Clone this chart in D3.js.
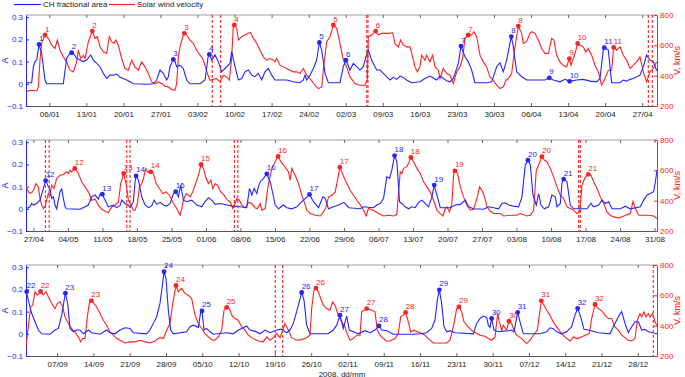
<!DOCTYPE html>
<html><head><meta charset="utf-8">
<script src="https://cdn.jsdelivr.net/npm/d3@7"></script>
<style>body{margin:0;background:#fff}text{font-family:"Liberation Sans",Arial,Helvetica,sans-serif}</style>
</head><body><svg id="c" width="685" height="377"></svg>
<script>
// ---------- DATA (day of year 2008, value) ----------
const ch1=[[1.6,0.005],[2.67,0.005],[2.99,0.077],[3.3,0.1],[3.62,0.107],[4.06,0.178],[4.56,0.137],[5.19,0.017],[5.5,0],[8.65,0],[9.28,0.115],[9.91,0.137],[10.23,0.14],[10.54,0.137],[11.17,0.115],[11.8,0.107],[12.43,0.1],[13.06,0.107],[13.82,0.13],[14.32,0.107],[14.95,0.092],[15.58,0.077],[16.21,0.047],[16.84,0.024],[17.47,0.039],[18.1,0.039],[18.73,0.044],[19.36,0.029],[19.99,0.024],[20.62,0.017],[21.25,0.009],[21.88,0],[24.4,-0.002],[25.66,0],[26.29,0.017],[26.92,0.062],[27.54,0.047],[28.17,0.017],[28.49,0.032],[28.8,0.077],[29.43,0.11],[29.75,0.1],[30.06,0.077],[30.69,0.084],[31.32,0.069],[31.95,0.017],[32.58,0],[34.47,0],[35.42,0.017],[36.05,0.13],[36.24,0.133],[36.68,0.107],[37.31,0.13],[37.93,0.1],[38.56,0.054],[39.19,0.069],[40.14,0.092],[40.46,0.145],[41.09,0.077],[41.71,0.017],[42.34,0.024],[42.97,0.054],[43.6,0.062],[44.23,0.039],[44.86,0.032],[45.49,0.047],[46.12,0.017],[46.75,0.054],[47.38,0.069],[48.01,0.039],[48.64,0.017],[50.84,0.017],[52.1,0.009],[53.36,0.005],[53.99,0.017],[54.31,0.039],[54.62,0.017],[55.25,0.039],[55.88,0.069],[56.51,0.107],[57.02,0.186],[57.46,0.152],[58.09,0.047],[58.72,0.005],[60.91,0.005],[61.54,0.077],[62.04,0.107],[62.8,0.062],[63.43,0.092],[64.06,0.077],[64.69,0.062],[65.32,0.077],[65.82,0.122],[66.26,0.152],[66.89,0.107],[67.84,0.062],[68.47,0.062],[69.1,0.047],[70.36,0.017],[70.99,0.029],[71.62,0.02],[72.24,0.035],[72.87,0.029],[73.5,0.017],[74.45,0.005],[76.02,0.009],[76.97,0.024],[77.91,0.035],[79.17,0.017],[79.8,0.035],[81.06,0.014],[81.69,0.009],[82.32,0.024],[83.27,0.092],[83.77,0.17],[84.52,0.122],[85.15,0.1],[85.78,0.062],[86.41,0.005],[88.62,0.005],[89.56,0.009],[90.51,0.077],[91.14,0.095],[91.77,0.054],[92.4,0.107],[93.28,0.213],[93.66,0.167],[94.29,0.054],[95.23,0.032],[96.17,0.017],[99.64,0.017],[100.46,0.027],[101.21,0.017],[102.47,0.009],[103.42,0.02],[104.3,0.011],[105.62,0.017],[106.88,0.02],[108.14,0.012],[109.4,0.009],[110.03,0.024],[110.66,0.155],[110.85,0.163],[111.6,0.152],[112.23,0.005],[113.81,0.005],[114.44,0.017],[115.07,0.012],[115.7,0.02],[116.33,0.024],[117.58,0.039],[118.21,0.077],[118.84,0.13],[119.47,0.107],[120.1,0.1],[120.73,0.059]];
const sw1=[[1.6,293],[2.36,304],[3.62,299],[3.93,326],[4.24,502],[4.56,613],[5.19,668],[5.82,646],[6.45,601],[7.08,579],[7.52,635],[8.02,568],[8.65,524],[9.28,491],[9.91,436],[10.54,425],[11.17,491],[11.49,568],[11.93,513],[12.43,535],[12.75,513],[13.38,624],[14.13,694],[14.64,646],[15.08,657],[15.58,590],[16.21,557],[16.84,546],[17.34,657],[17.78,624],[18.22,613],[18.6,635],[19.04,601],[19.67,513],[20.3,447],[20.93,436],[21.56,502],[22.19,458],[22.82,436],[23.45,491],[24.08,458],[24.71,414],[25.34,359],[25.97,348],[26.6,359],[27.23,348],[27.86,330],[28.49,326],[29.12,308],[29.75,304],[30.06,348],[30.38,524],[30.69,590],[31.2,657],[31.51,679],[31.95,668],[32.58,635],[33.21,613],[33.84,568],[34.47,535],[34.98,513],[35.42,469],[35.86,414],[36.36,370],[36.99,376],[37.62,381],[38.25,359],[38.88,403],[39.51,392],[40.01,370],[40.45,513],[40.77,734],[40.96,734],[41.4,712],[41.71,635],[42.03,646],[42.34,657],[42.97,668],[43.6,679],[44.04,685],[44.55,646],[45.18,613],[45.81,568],[46.44,524],[47.07,502],[47.7,513],[48.33,502],[48.64,491],[48.96,513],[49.59,469],[50.21,458],[50.84,447],[51.47,436],[52.1,425],[52.73,425],[53.36,414],[53.99,447],[54.62,403],[55.25,381],[56.2,337],[56.83,315],[57.46,326],[57.9,480],[58.4,624],[59.03,657],[59.66,734],[60.29,712],[60.91,613],[61.55,502],[62.17,458],[62.8,392],[63.74,348],[64.69,337],[65.63,337],[66.07,370],[66.26,657],[66.89,668],[67.65,694],[68.15,668],[68.78,679],[70.04,679],[70.86,683],[71.3,613],[71.93,590],[72.37,635],[72.87,601],[73.5,590],[74.13,590],[74.64,524],[75.08,458],[75.52,425],[76.02,458],[76.34,535],[76.97,502],[77.28,535],[77.91,491],[78.42,535],[78.86,458],[79.49,436],[79.8,381],[80.43,447],[81.06,414],[81.69,403],[82.32,348],[82.95,425],[83.58,458],[84.08,513],[84.52,646],[85.15,668],[85.78,668],[86.22,690],[86.73,657],[87.36,535],[87.99,491],[88.62,458],[89.25,392],[89.88,370],[90.51,337],[91.14,315],[91.77,326],[92.27,370],[92.71,381],[93.34,414],[93.97,590],[94.6,727],[95.23,679],[95.54,613],[96.17,624],[96.8,679],[97.12,690],[97.75,679],[98.38,635],[99.01,579],[99.64,546],[100.27,546],[100.9,646],[101.34,635],[101.84,535],[102.47,491],[103.1,469],[103.73,458],[104.24,513],[104.55,469],[104.99,513],[105.3,546],[105.81,612],[106.25,601],[106.88,590],[107.32,557],[107.82,579],[108.45,535],[109.08,469],[109.71,425],[110.34,337],[110.97,381],[111.6,436],[112.23,436],[112.61,586],[113.18,568],[113.81,590],[114.44,535],[115.07,502],[115.7,447],[116.33,469],[116.95,491],[117.58,524],[118.21,425],[118.84,359],[119.47,425],[120.1,447],[120.73,491]];
const ch2=[[116.5,0],[117.31,0.009],[117.65,0.024],[117.99,0.017],[118.67,0.024],[119.34,0.039],[120.02,0.092],[120.49,0.127],[121.03,0.1],[121.37,0.084],[121.71,0.047],[122.05,0.054],[122.39,0.017],[122.72,0],[123.06,0.039],[123.4,0.077],[123.74,0.089],[124.08,0.047],[124.42,0.009],[124.75,0],[127.46,-0.002],[128.48,0.009],[129.15,0.017],[129.83,0.054],[130.51,0.062],[131.18,0.044],[131.52,0.065],[131.99,0.066],[132.54,0.039],[133.21,0.009],[134.23,0.017],[134.9,0.005],[135.58,0.014],[135.92,0.039],[136.59,0.024],[137.27,0.017],[137.61,0.005],[138.29,0.032],[138.62,0.122],[138.83,0.148],[139.3,0.13],[139.98,0.054],[140.65,0.017],[141.33,0.005],[142.01,0.014],[142.48,0.039],[143.02,0.02],[143.7,0.029],[144.38,0.017],[145.05,0.012],[145.73,0.024],[146.41,0.069],[146.88,0.077],[147.42,0.054],[147.89,0.107],[148.43,0.039],[149.11,0.032],[150.13,0.039],[151.14,0.017],[152.16,0.009],[152.83,0.032],[153.51,0.05],[154.19,0.039],[154.86,0.02],[155.88,0.024],[157.23,0.017],[158.58,0.012],[159.94,0.009],[161.29,0.005],[161.83,0.092],[162.31,0.062],[162.78,0.092],[163.32,0.069],[163.66,0.1],[164.0,0.122],[164.67,0.137],[165.35,0.157],[166.03,0.122],[166.57,0.069],[167.04,0.017],[167.72,0],[168.73,0.017],[169.41,0.005],[170.42,0],[171.44,0.009],[172.45,0.032],[174.01,0.065],[174.82,0.032],[175.84,0.005],[176.72,0.054],[177.19,0.047],[177.87,0],[178.88,0.009],[179.9,0.017],[181.0,0.029],[182.0,0.005],[184.29,0],[184.97,0.009],[187.0,0.005],[187.67,0.017],[188.35,0.024],[189.03,0.047],[189.7,0.145],[190.24,0.137],[190.72,0.175],[191.26,0.24],[191.73,0.213],[192.27,0.032],[192.75,0.024],[193.42,0.009],[194.1,0],[194.78,0.009],[195.45,0.005],[196.13,0.029],[196.81,0.039],[197.48,0.024],[198.16,0.009],[198.84,0.054],[199.31,0.107],[199.85,0.062],[200.53,0.005],[202.56,0.005],[203.57,0.017],[204.59,0.02],[205.6,0.039],[206.28,0.009],[207.29,0],[209.32,-0.002],[210.34,0.009],[211.35,0.005],[212.37,0],[213.05,0.024],[213.72,0.027],[214.4,0.017],[215.41,0.012],[216.43,0.009],[217.1,0.054],[217.78,0.198],[218.32,0.219],[218.8,0.198],[219.34,0.062],[220.01,0.017],[220.49,0.069],[220.96,0.017],[221.64,0],[222.52,0.009],[223.19,0.062],[223.87,0.054],[224.21,0.009],[224.88,0.024],[225.22,0.115],[225.56,0.134],[226.24,0.122],[226.91,0.017],[227.59,0],[230.3,0],[231.11,0.024],[231.65,0.009],[232.67,0.017],[233.34,0.039],[234.02,0.024],[234.7,0.032],[235.37,0],[237.06,0],[238.08,0.012],[239.09,0],[241.12,0.009],[241.8,0.039],[242.48,0.062],[243.15,0.069],[243.83,0.077],[244.17,0.122],[244.5,0.175]];
const sw2=[[116.5,491],[117.18,447],[117.85,458],[118.53,513],[119.0,491],[119.34,414],[119.68,370],[120.02,348],[120.36,359],[120.69,403],[121.03,447],[121.37,436],[121.71,502],[122.18,480],[122.72,546],[123.4,568],[124.08,573],[124.75,590],[125.09,579],[125.43,601],[125.77,590],[126.38,612],[127.12,579],[127.8,524],[128.48,491],[129.15,458],[129.83,403],[130.51,410],[131.18,370],[131.86,343],[132.54,330],[133.21,321],[133.89,359],[134.57,370],[135.24,392],[135.72,513],[136.32,579],[136.8,513],[137.27,403],[137.81,370],[138.29,337],[138.62,337],[139.1,381],[139.5,491],[139.98,513],[140.32,546],[140.79,612],[141.13,590],[141.8,590],[142.35,579],[142.89,513],[143.56,480],[144.24,447],[144.92,458],[145.59,436],[146.41,381],[147.08,348],[147.76,304],[148.1,348],[148.43,403],[148.98,447],[149.45,436],[149.79,425],[150.33,458],[150.8,502],[151.48,568],[152.02,639],[152.49,613],[153.04,546],[153.51,513],[153.98,535],[154.39,480],[154.86,513],[155.34,502],[156.01,458],[156.69,436],[157.37,403],[157.91,392],[158.45,348],[158.92,381],[159.26,414],[159.8,403],[160.28,370],[160.95,352],[161.63,388],[162.31,381],[162.98,352],[163.46,348],[164.0,381],[164.34,337],[165.01,348],[165.49,469],[165.89,546],[166.37,613],[167.04,657],[167.65,692],[168.19,657],[168.73,635],[169.27,613],[169.75,590],[170.09,535],[170.42,613],[171.1,568],[171.78,513],[172.45,436],[172.93,392],[173.47,337],[174.15,315],[175.16,304],[176.18,299],[176.85,326],[177.39,359],[177.87,425],[178.54,436],[179.22,458],[179.69,535],[180.17,621],[180.91,560],[181.58,513],[182.26,469],[182.94,436],[183.61,403],[184.29,374],[184.97,337],[185.51,299],[185.98,348],[187.0,337],[188.01,315],[189.03,299],[190.04,304],[191.06,299],[191.73,308],[192.41,590],[192.75,579],[193.09,613],[193.76,624],[194.1,646],[194.57,685],[195.11,657],[195.79,613],[196.47,579],[197.14,524],[197.82,491],[198.5,458],[199.17,403],[199.85,337],[200.53,315],[201.07,299],[201.54,348],[201.88,359],[202.42,326],[202.9,381],[203.23,568],[203.5,597],[204.05,579],[204.59,491],[205.26,425],[205.94,370],[206.62,337],[207.29,343],[207.97,414],[208.51,491],[208.99,469],[209.53,425],[210.0,359],[210.68,330],[211.35,315],[212.71,315],[213.38,299],[214.74,304],[216.09,304],[216.77,315],[218.12,299],[218.8,304],[219.47,337],[220.01,601],[220.49,635],[221.16,690],[221.64,668],[222.18,657],[222.86,613],[223.53,557],[224.21,491],[224.88,436],[225.56,414],[226.24,359],[226.91,348],[227.59,337],[228.27,315],[228.81,326],[229.28,502],[229.96,557],[230.57,573],[231.11,568],[231.65,524],[232.33,480],[233.0,425],[233.68,381],[234.36,326],[235.03,304],[235.71,293],[236.72,286],[237.4,293],[238.42,308],[239.09,315],[239.63,396],[240.11,348],[240.79,304],[242.81,304],[243.83,299],[244.5,282]];
const ch3=[[245.0,0.195],[245.45,0.152],[246.09,0.092],[246.74,0.054],[247.38,0.017],[248.02,0],[249.63,-0.002],[250.59,0.017],[251.24,0.024],[251.88,0.084],[252.59,0.183],[253.04,0.137],[253.49,0.024],[254.13,0.009],[254.77,0.017],[255.41,0.017],[256.06,0],[257.02,0.017],[257.66,0.005],[259.27,-0.002],[260.56,0.017],[261.2,0.005],[262.16,0],[263.13,0.017],[264.09,0.027],[265.06,0.024],[265.7,0.005],[268.27,0],[268.92,0.017],[269.56,0.047],[270.2,0.077],[270.84,0.137],[271.36,0.228],[271.62,0.28],[272.0,0.25],[272.45,0.107],[272.9,0.017],[273.42,0],[275.99,0.009],[276.63,0.032],[277.27,0.039],[278.24,0.029],[278.75,0.107],[278.94,0.103],[279.33,0.017],[279.84,0.024],[280.49,0.009],[281.13,-0.002],[283.7,0.005],[284.99,0],[285.95,0.017],[286.59,0.024],[287.56,0.035],[288.2,0.017],[289.17,0.012],[290.13,0],[291.1,0.017],[292.06,0.005],[293.34,0.017],[294.31,0.021],[295.27,0.005],[295.92,0.017],[296.56,0.047],[297.2,0.1],[298.17,0.186],[298.62,0.152],[299.13,0.039],[299.77,0],[303.31,0],[304.27,0.017],[304.92,0.039],[305.56,0.084],[306.2,0.024],[306.85,0.08],[307.36,0.017],[308.13,0.009],[309.1,0],[310.38,0.014],[311.35,0.005],[312.31,0.017],[313.08,0.036],[313.6,0.017],[314.56,0.014],[315.85,-0.002],[319.7,-0.002],[320.99,0],[322.27,0.005],[323.24,0.024],[323.88,0.062],[324.33,0.152],[324.72,0.198],[325.17,0.137],[325.62,0.032],[326.13,0.009],[326.77,0.014],[327.74,0.005],[331.28,0],[331.92,0.047],[332.56,0.069],[333.2,0.08],[333.85,0.074],[334.17,0.039],[334.49,0.029],[334.81,0.069],[335.26,0.017],[336.1,0.009],[337.06,0.012],[338.03,0.014],[338.67,0.017],[339.12,0.009],[339.83,0.097],[340.28,0.054],[340.92,0],[344.13,0],[345.42,0.009],[346.06,0.027],[346.7,0.023],[347.35,0.009],[348.31,0],[349.28,0.009],[350.24,0.032],[350.88,0.084],[351.4,0.115],[351.97,0.077],[352.62,0.02],[353.45,0.017],[355.38,0.005],[357.63,0],[358.28,0.032],[359.24,0.077],[359.88,0.1],[360.53,0.047],[361.17,0.005],[361.81,0.032],[362.46,0.054],[363.1,0.054],[363.74,0.017],[364.38,0.02],[365.03,0.009],[366.7,0]];
const sw3=[[245.0,271],[245.45,392],[245.9,524],[246.29,535],[246.74,624],[247.19,601],[247.57,613],[247.83,626],[248.34,601],[248.86,624],[249.31,590],[249.95,546],[250.59,513],[251.04,546],[251.56,557],[252.07,524],[252.52,458],[253.16,414],[253.81,381],[254.45,359],[255.09,326],[255.54,293],[255.93,315],[256.38,315],[256.83,458],[257.21,546],[257.6,564],[258.11,546],[258.63,524],[259.27,480],[259.91,436],[260.56,403],[261.2,359],[261.84,337],[262.49,315],[263.13,304],[264.09,286],[265.06,293],[266.02,293],[266.99,304],[267.95,293],[268.92,286],[269.88,299],[270.84,321],[271.49,315],[272.13,370],[272.77,414],[273.29,546],[273.93,665],[274.38,624],[275.02,646],[275.67,613],[276.31,601],[276.95,579],[277.59,469],[278.24,414],[278.88,381],[279.52,348],[280.17,326],[280.81,308],[281.45,304],[282.09,326],[282.74,370],[283.19,502],[283.7,520],[284.22,513],[284.67,469],[285.31,447],[285.95,436],[286.59,392],[287.24,370],[287.88,337],[288.52,321],[289.17,308],[289.81,299],[290.77,293],[291.42,326],[292.06,304],[292.7,321],[293.34,348],[293.99,321],[294.5,370],[294.95,414],[295.6,370],[296.24,321],[297.2,304],[298.17,308],[299.13,321],[299.77,337],[300.1,513],[300.55,635],[300.93,648],[301.38,624],[301.83,579],[302.34,535],[302.99,513],[303.63,502],[304.14,557],[304.6,535],[305.24,469],[305.88,425],[306.52,392],[306.9,350],[307.49,304],[308.13,315],[308.77,337],[309.42,337],[309.74,491],[310.7,513],[311.67,502],[312.31,491],[312.76,370],[313.27,337],[313.92,315],[314.56,299],[315.2,299],[316.17,315],[316.81,348],[317.26,458],[317.77,469],[318.22,487],[318.74,425],[319.19,359],[319.83,370],[320.48,359],[321.12,352],[321.95,337],[322.6,315],[323.56,286],[324.85,286],[326.13,286],[326.77,304],[327.42,392],[328.06,513],[328.51,524],[329.02,491],[329.47,425],[329.99,403],[330.63,381],[331.28,359],[331.92,348],[332.56,337],[333.53,330],[334.17,315],[334.81,304],[335.45,326],[335.97,480],[336.29,425],[336.74,370],[337.06,403],[337.7,370],[338.15,429],[338.67,414],[339.12,370],[339.63,337],[340.6,315],[341.56,282],[342.2,304],[342.85,337],[343.62,370],[344.13,502],[344.39,564],[344.9,535],[345.42,502],[346.06,469],[346.7,425],[347.35,392],[348.31,348],[349.28,315],[349.92,299],[350.56,326],[351.2,315],[351.85,321],[352.81,337],[353.65,348],[354.1,447],[354.74,540],[355.38,513],[356.03,498],[356.67,469],[357.31,447],[357.96,447],[358.6,392],[359.24,370],[359.88,337],[360.53,321],[361.17,304],[361.81,299],[362.46,315],[362.9,436],[363.42,480],[363.74,458],[364.19,491],[364.57,458],[365.03,480],[365.35,458],[365.86,480],[366.31,425],[366.7,403]];

// labelled peaks: [label, day, value]
const chPk1=[[1,4.06,0.178],[2,10.23,0.14],[3,29.43,0.11],[4,36.24,0.133],[5,57.02,0.186],[6,62.04,0.107],[7,83.77,0.17],[8,93.28,0.213],[9,100.46,0.027],[10,104.3,0.011],[11,110.85,0.163]];
const swPk1=[[1,5.19,668],[2,14.13,694],[3,31.51,679],[4,40.96,734],[5,59.66,734],[6,67.65,694],[7,85.15,668],[8,94.6,727],[9,104.24,513],[10,105.81,612],[11,112.61,586]];
const chPk2=[[12,120.49,0.127],[13,131.99,0.066],[14,138.83,0.148],[15,146.88,0.077],[16,165.35,0.157],[17,174.01,0.065],[18,191.26,0.24],[19,199.31,0.107],[20,218.32,0.219],[21,225.56,0.134]];
const swPk2=[[12,126.38,612],[13,136.32,579],[14,141.8,590],[15,152.02,639],[16,167.65,692],[17,180.17,621],[18,194.57,685],[19,203.5,597],[20,221.16,690],[21,230.57,573]];
const chPk3=[[22,245.13,0.19],[23,252.59,0.183],[24,271.62,0.28],[25,278.94,0.103],[26,298.17,0.186],[27,305.56,0.084],[28,313.08,0.036],[29,324.72,0.198],[30,334.81,0.069],[31,339.83,0.097],[32,351.4,0.115]];
const swPk3=[[22,247.83,626],[23,257.6,564],[24,273.93,665],[25,283.7,520],[26,300.93,648],[27,310.7,513],[28,318.22,487],[29,328.51,524],[30,338.15,429],[31,344.39,564],[32,354.74,540]];

// event markers (dashed lines), day of year
const ev1=[36.79,38.38,65.97,66.2,119.16,119.91];
const ev2=[120.43,121.2,136.94,137.61,158.78,159.47,228.6,228.94];
const ev3=[293.08,294.5,365.98];

const dayDomains=[[1.6,120.8],[116.5,244.5],[245,366.7]];
const tickFirstDay=[6,118,251];
const tickLastDay=[118,244,363];
const aTicks=[-0.1,0,0.1,0.2,0.3];
const vTicks=[200,400,600,800];
const seriesNames=["CH fractional area","Solar wind velocity"];

// ---------- DRAW ----------
const BLUE="#2424ff", RED="#ff2020";
const svg=d3.select("#c");
const L=26,R=657,PH=91;
const fmtDate=d3.utcFormat("%d/%m");
const dayToDate=d=>new Date(Date.UTC(2008,0,d));
const panels=[
 {ch:ch1,sw:sw1,cp:chPk1,sp:swPk1,ev:ev1},
 {ch:ch2,sw:sw2,cp:chPk2,sp:swPk2,ev:ev2},
 {ch:ch3,sw:sw3,cp:chPk3,sp:swPk3,ev:ev3}];

panels.forEach((p,i)=>{
  const top=15+125*i, bot=top+PH;
  const x=d3.scaleLinear().domain(dayDomains[i]).range([L,R]);
  const yA=d3.scaleLinear().domain([-0.1,0.31]).range([bot,top]);
  const yV=d3.scaleLinear().domain([200,800]).range([bot,top]);
  const g=svg.append("g");
  const cid="clip"+i;
  svg.append("clipPath").attr("id",cid).append("rect").attr("x",L).attr("y",top).attr("width",R-L).attr("height",PH);

  // top border
  g.append("line").attr("x1",L).attr("x2",R).attr("y1",top).attr("y2",top).attr("stroke","#a0a0a0").attr("stroke-width",1.2);

  const ticks=d3.range(tickFirstDay[i],tickLastDay[i]+1,7);
  const ax=g.append("g").attr("transform",`translate(0,${bot})`)
    .call(d3.axisBottom(x).tickValues(ticks).tickSize(-3).tickSizeOuter(0).tickPadding(5).tickFormat(d=>fmtDate(dayToDate(d))));
  ax.select(".domain").attr("stroke","#555");
  ax.selectAll(".tick line").attr("stroke","#666");
  ax.selectAll("text").attr("font-size",8).attr("fill","#222").attr("font-family","Liberation Sans, Arial, sans-serif");
  const axT=g.append("g").attr("transform",`translate(0,${top})`)
    .call(d3.axisTop(x).tickValues(ticks).tickSize(-3).tickSizeOuter(0).tickFormat(""));
  axT.select(".domain").remove();
  axT.selectAll(".tick line").attr("stroke","#666");

  const al=g.append("g").attr("transform",`translate(${L},0)`)
    .call(d3.axisLeft(yA).tickValues(aTicks).tickSize(-3).tickSizeOuter(0).tickPadding(3).tickFormat(d=>d===0?"0":d3.format(".1f")(d)));
  al.select(".domain").attr("stroke",BLUE);
  al.selectAll(".tick line").attr("stroke",BLUE);
  al.selectAll("text").attr("font-size",8).attr("fill",BLUE).attr("font-family","Liberation Sans, Arial, sans-serif");

  const ar=g.append("g").attr("transform",`translate(${R},0)`)
    .call(d3.axisRight(yV).tickValues(vTicks).tickSize(-3).tickSizeOuter(0).tickPadding(3));
  ar.select(".domain").attr("stroke",RED);
  ar.selectAll(".tick line").attr("stroke",RED);
  ar.selectAll("text").attr("font-size",8).attr("fill",RED).attr("font-family","Liberation Sans, Arial, sans-serif");

  g.append("text").attr("transform",`translate(8,${(top+bot)/2}) rotate(-90)`).attr("text-anchor","middle")
    .attr("font-size",9).attr("fill",BLUE).text("A");
  g.append("text").attr("transform",`translate(680,${(top+bot)/2}) rotate(-90)`).attr("text-anchor","middle")
    .attr("font-size",9).attr("fill",RED).text("V, km/s");

  const plot=g.append("g").attr("clip-path",`url(#${cid})`);
  plot.append("path").datum(p.sw).attr("fill","none").attr("stroke",RED).attr("stroke-width",1.1)
    .attr("d",d3.line().x(d=>x(d[0])).y(d=>yV(d[1])));
  plot.append("path").datum(p.ch).attr("fill","none").attr("stroke",BLUE).attr("stroke-width",1.1)
    .attr("d",d3.line().x(d=>x(d[0])).y(d=>yA(d[1])));

  plot.selectAll(".ev").data(p.ev).join("line").attr("x1",d=>x(d)).attr("x2",d=>x(d))
    .attr("y1",top).attr("y2",bot).attr("stroke",RED).attr("stroke-width",1.1).attr("stroke-dasharray","3,2");

  const pk=(arr,ys,col)=>{
    g.selectAll(null).data(arr).join("circle").attr("cx",d=>x(d[1])).attr("cy",d=>ys(d[2])).attr("r",2.4).attr("fill",col);
    g.selectAll(null).data(arr).join("text").attr("x",d=>x(d[1])).attr("y",d=>ys(d[2])-3.5)
      .attr("font-size",8).attr("fill",col).text(d=>d[0]);
  };
  pk(p.sp,yV,RED);
  pk(p.cp,yA,BLUE);
});

// legend
const lg=svg.append("g");
lg.append("line").attr("x1",14).attr("x2",41).attr("y1",4.5).attr("y2",4.5).attr("stroke",BLUE).attr("stroke-width",1.2);
lg.append("text").attr("x",43).attr("y",7.3).attr("font-size",8).attr("fill","#222").text(seriesNames[0]);
lg.append("line").attr("x1",109).attr("x2",135).attr("y1",4.5).attr("y2",4.5).attr("stroke",RED).attr("stroke-width",1.2);
lg.append("text").attr("x",137).attr("y",7.3).attr("font-size",8).attr("fill","#222").text(seriesNames[1]);

svg.append("text").attr("x",342).attr("y",376.5).attr("text-anchor","middle").attr("font-size",8).attr("fill","#222").text("2008, dd/mm");
</script></body></html>
